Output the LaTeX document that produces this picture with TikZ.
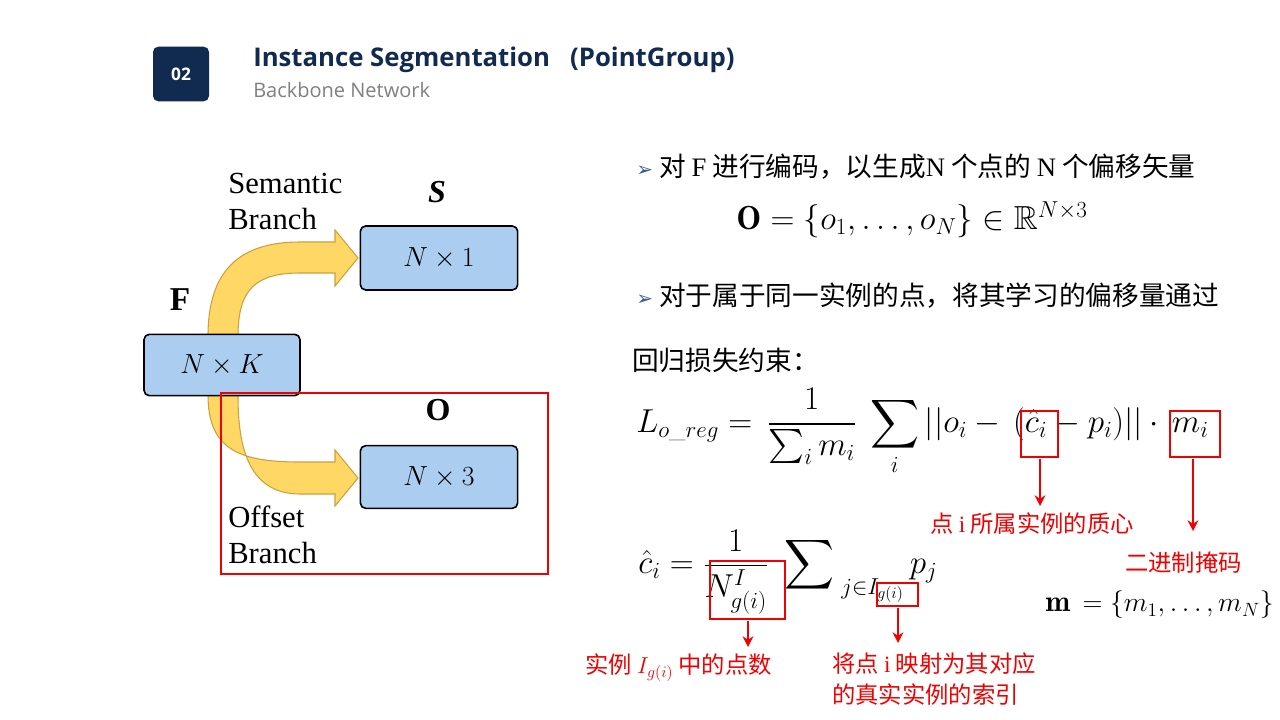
\documentclass[tikz,border=0pt]{standalone}
\usepackage{amsmath,amssymb}
\usepackage{fontspec}
\newfontfamily\cjk{Noto Sans CJK SC}
\newfontfamily\osans{Open Sans}
\newfontfamily\dju{DejaVu Sans}
\newfontfamily\tnr{Liberation Serif}
\definecolor{navy}{RGB}{16,42,80}
\definecolor{boxblue}{RGB}{170,205,240}
\definecolor{arrowy}{RGB}{255,215,100}
\definecolor{arrowo}{RGB}{205,160,60}
\definecolor{redc}{RGB}{240,0,0}
\definecolor{bulletc}{RGB}{60,90,130}
\tikzset{
  blk/.style={draw=black,line width=1.2pt,fill=boxblue,rounded corners=4pt},
  rbox/.style={draw=redc,line width=2.2pt},
  rarrow/.style={draw=redc,line width=2.2pt,-{Stealth[length=8pt,width=8pt]}},
  rtxt/.style={text=redc,font=\cjk\fontsize{17.5}{23}\selectfont,anchor=west,inner sep=0pt},
  btxt/.style={font=\cjk\fontsize{20}{24}\selectfont,anchor=west,inner sep=0pt},
  lbl/.style={font=\tnr\fontsize{23}{27}\selectfont,align=left,anchor=west,inner sep=0pt},
  yarr/.style={fill=arrowy,draw=arrowo,line width=0.8pt}
}
\usetikzlibrary{arrows.meta}
\begin{document}
\begin{tikzpicture}[x=0.75pt,y=-0.75pt]
\useasboundingbox (0,0) rectangle (1280,720);
\fill[white] (0,0) rectangle (1280,720);
% header
\node[fill=navy,rounded corners=4pt,minimum width=42pt,minimum height=41pt,text=white,font=\osans\bfseries\fontsize{13}{15}\selectfont] (badge) at (181,74) {02};
\node[anchor=west,text=navy,font=\osans\bfseries\fontsize{19.3}{22}\selectfont,inner sep=0pt] (title) at (253,60) {Instance Segmentation\ \ \ (PointGroup)};
\node[anchor=west,text=gray,font=\osans\fontsize{15}{17}\selectfont,inner sep=0pt] (sub) at (253,90) {Backbone Network};
% yellow arrows
\path[yarr] (208,336) .. controls (208,270) and (240,242) .. (300,242) -- (335,242) -- (335,230) -- (358,258) -- (335,286) -- (335,273) -- (300,273) .. controls (255,273) and (238,290) .. (238,336) -- cycle;
\path[yarr] (208,395) .. controls (208,450) and (240,462) .. (300,462) -- (335,462) -- (335,450) -- (358,478) -- (335,506) -- (335,494) -- (300,494) .. controls (245,494) and (238,440) .. (238,395) -- cycle;
% boxes
\node[blk,minimum width=117pt,minimum height=46pt] (nk) at (222,365) {\fontsize{21}{23}\selectfont$N\times K$};
\node[blk,minimum width=118pt,minimum height=48pt] (n1) at (439,258) {\fontsize{21}{23}\selectfont$N\times 1$};
\node[blk,minimum width=118pt,minimum height=47pt] (n3) at (439,477) {\fontsize{21}{23}\selectfont$N\times 3$};
\node[lbl] (sem) at (228,201) {Semantic\\Branch};
\node[lbl] (off) at (228,535) {Offset\\Branch};
\node[font=\tnr\fontsize{24}{26}\selectfont\bfseries\itshape] (S) at (437,192) {S};
\node[font=\tnr\fontsize{25}{27}\selectfont\bfseries] (F) at (180,300) {F};
\node[font=\tnr\fontsize{24}{26}\selectfont\bfseries] (O) at (438,410) {O};
\draw[rbox] (221,393) rectangle (548,574);
% right text
\node[btxt] (b1) at (636,167) {{\dju\color{bulletc}\fontsize{15}{17}\selectfont ➢} 对 {\tnr F} 进行编码，以生成{\tnr N} 个点的 {\tnr N} 个偏移矢量};
\node[font=\fontsize{25}{28}\selectfont] (eqO) at (912,220) {$\mathbf{O}=\{o_1,\ldots,o_N\}\in\mathbb{R}^{N\times 3}$};
\node[btxt] (b2) at (636,296) {{\dju\color{bulletc}\fontsize{15}{17}\selectfont ➢} 对于属于同一实例的点，将其学习的偏移量通过};
\node[btxt] (b3) at (632,360) {回归损失约束：};
\node[font=\fontsize{25.5}{28}\selectfont,anchor=west,inner sep=0pt] (eqL) at (636,432) {$L_{o\_reg}=\hspace{4pt}\dfrac{1}{\sum_i m_i}\hspace{6pt}\displaystyle\sum_i ||o_i-\hspace{4pt}(\hat{c}_i-p_i)||\cdot\hspace{4pt} m_i$};
\draw[rbox] (1021,411) rectangle (1058,457);
\draw[rbox] (1170,411) rectangle (1220,457);
\coordinate (a1s) at (1040,459); \coordinate (a1e) at (1040,506);
\coordinate (a2s) at (1193,459); \coordinate (a2e) at (1193,531);
\draw[rarrow] (a1s) -- (a1e);
\draw[rarrow] (a2s) -- (a2e);
\node[rtxt] (t1) at (930,524) {点 {\tnr i} 所属实例的质心};
\node[rtxt] (t2) at (1125,563) {二进制掩码};
\node[font=\fontsize{26}{28}\selectfont,anchor=west,inner sep=0pt] (eqC) at (638,572) {$\hat{c}_i=\dfrac{1}{N^{I}_{g(i)}}\hspace{8pt}\displaystyle\sum\nolimits_{\hspace{5pt}j\in I_{g(i)}}p_j$};
\draw[rbox] (710,561) rectangle (785,619);
\draw[rbox] (877,583) rectangle (918,606);
\coordinate (a3s) at (748,621); \coordinate (a3e) at (748,647);
\coordinate (a4s) at (898,608); \coordinate (a4e) at (898,643);
\draw[rarrow] (a3s) -- (a3e);
\draw[rarrow] (a4s) -- (a4e);
\node[font=\fontsize{22.5}{25}\selectfont,anchor=west,inner sep=0pt] (eqm) at (1045,605) {$\mathbf{m}\,=\{m_1,\ldots,m_N\}$};
\node[rtxt] (t3) at (585,668) {实例 $I_{g(i)}$ 中的点数};
\node[rtxt,align=left] (t4) at (832,679) {将点 {\tnr i} 映射为其对应\\的真实实例的索引};
\end{tikzpicture}
\end{document}
